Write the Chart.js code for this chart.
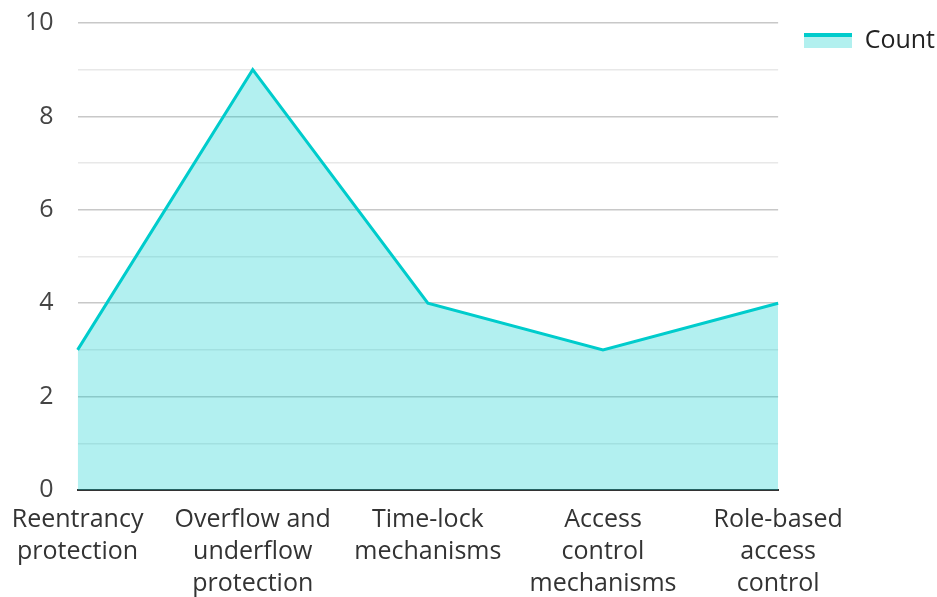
<!DOCTYPE html>
<html>
<head>
<meta charset="utf-8">
<script src="https://cdn.jsdelivr.net/npm/chart.js@4"></script>
<style>
  html, body { margin: 0; padding: 0; background: #fff; }
  #wrap { width: 937px; height: 597px; }
</style>
</head>
<body>
<div id="wrap"><canvas id="chart"></canvas></div>
<script>
const categories = [
    ['Reentrancy', 'protection'],
    ['Overflow and', 'underflow', 'protection'],
    ['Time-lock', 'mechanisms'],
    ['Access', 'control', 'mechanisms'],
    ['Role-based', 'access', 'control']
];
const counts = [3, 9, 4, 3, 4];
const seriesName = 'Count';

const lineColor = '#00cccc';
const fillColor = 'rgba(0, 204, 204, 0.3)';

// legend swatch: thick line on top, pale fill below
const swatch = document.createElement('canvas');
swatch.width = 48;
swatch.height = 15;
const sctx = swatch.getContext('2d');
sctx.fillStyle = '#b2f0ef';
sctx.fillRect(0, 0, 48, 15);
sctx.fillStyle = lineColor;
sctx.fillRect(0, 0, 48, 4);

Chart.defaults.font.family = '"Open Sans", sans-serif';
Chart.defaults.font.size = 25;
Chart.defaults.color = '#444';

new Chart(document.getElementById('chart'), {
    type: 'line',
    data: {
        labels: categories,
        datasets: [{
            label: seriesName,
            data: counts,
            borderColor: lineColor,
            backgroundColor: fillColor,
            borderWidth: 3,
            fill: 'origin',
            pointRadius: 0,
            tension: 0
        }]
    },
    options: {
        responsive: true,
        maintainAspectRatio: false,
        animation: false,
        layout: { padding: { top: 2, right: -8, bottom: -3, left: 17 } },
        plugins: {
            legend: {
                position: 'right',
                align: 'start',
                labels: {
                    usePointStyle: true,
                    pointStyle: swatch,
                    pointStyleWidth: 48,
                    padding: 26,
                    color: '#222',
                    font: { size: 25 }
                }
            },
            tooltip: { enabled: false }
        },
        scales: {
            x: {
                offset: false,
                grid: { drawOnChartArea: false, drawTicks: true, tickLength: 14, tickColor: 'rgba(0,0,0,0)' },
                border: { display: true, color: '#333', width: 2 },
                ticks: { maxRotation: 0, autoSkip: false, padding: 0, color: '#333', font: { size: 25, lineHeight: 1.28 } }
            },
            y: {
                min: 0,
                max: 10,
                grid: {
                    drawTicks: true,
                    tickLength: 16,
                    tickColor: 'rgba(0,0,0,0)',
                    color: ctx => (ctx.tick && ctx.tick.value % 2 === 0) ? '#c8c8c8' : '#e8e8e8',
                    lineWidth: 1.5
                },
                border: { display: false },
                ticks: {
                    stepSize: 1,
                    padding: 8,
                    color: '#444',
                    callback: v => (v % 2 === 0 ? v : '')
                }
            }
        }
    }
});
</script>
</body>
</html>
